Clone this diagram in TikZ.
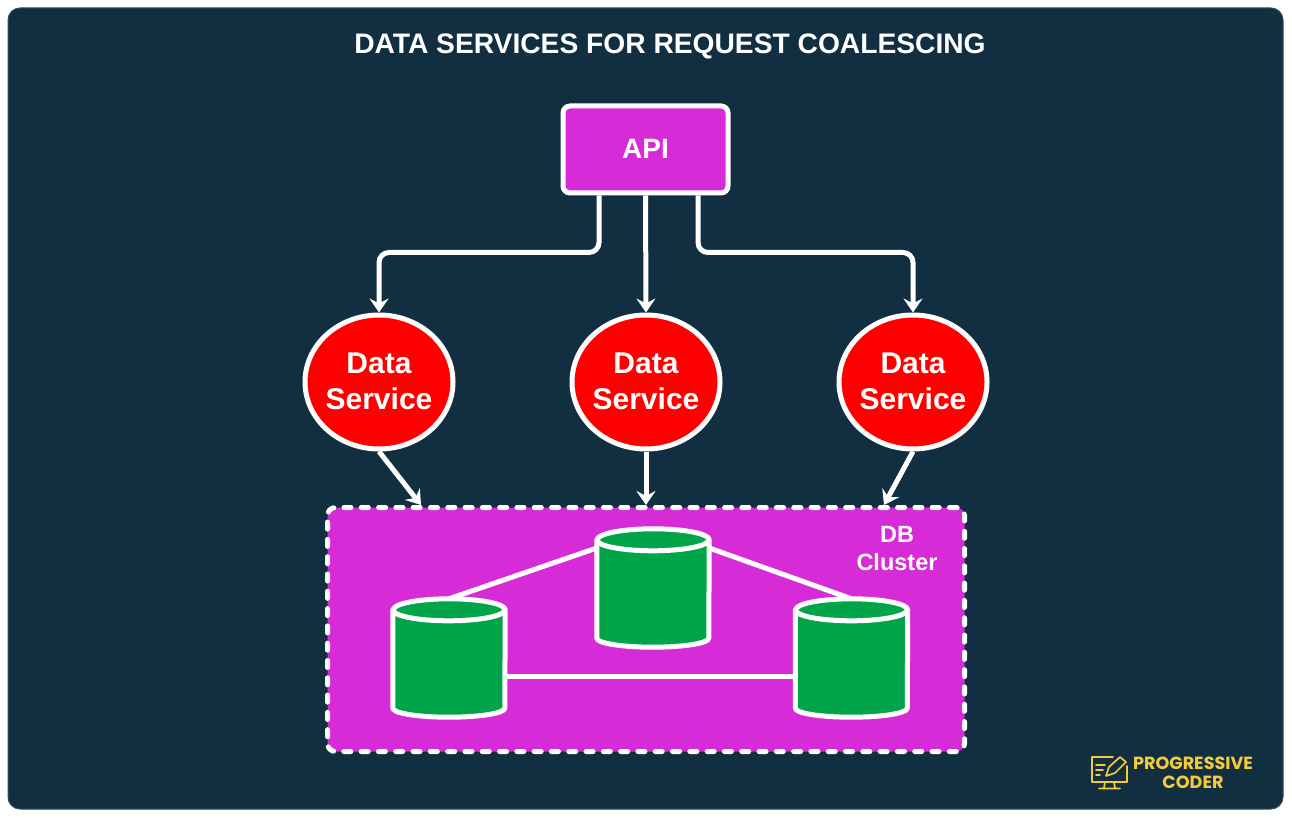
\documentclass[tikz,border=0pt]{standalone}
\usepackage{fontspec}
\setmainfont{Liberation Sans}
\newfontfamily\logofont{Poppins}
\usetikzlibrary{shapes.geometric,arrows.meta,positioning,calc}
\definecolor{panelbg}{HTML}{122F41}
\definecolor{magentabox}{HTML}{D62BD6}
\definecolor{dbgreen}{HTML}{00A549}
\definecolor{logoyellow}{HTML}{F4CB3C}
\tikzset{
  x=1pt,y=-1pt,
  panel/.style={rectangle,draw=panelbg!85!white,line width=1pt,fill=panelbg,rounded corners=12pt,minimum width=1275pt,minimum height=801pt,inner sep=0pt},
  titletext/.style={text=white,font=\bfseries\fontsize{28.2}{33}\selectfont,inner sep=0pt},
  apibox/.style={rectangle,draw=white,line width=5pt,fill=magentabox,rounded corners=7pt,minimum width=165pt,minimum height=87pt,text=white,font=\bfseries\fontsize{28}{34}\selectfont,inner sep=0pt},
  service/.style={ellipse,draw=white,line width=5pt,fill=red,minimum width=148pt,minimum height=134pt,inner sep=-12pt,text=white,align=center,font=\bfseries\fontsize{30}{36}\selectfont},
  cluster/.style={rectangle,draw=white,line width=5pt,fill=magentabox,rounded corners=8pt,minimum width=637pt,minimum height=244pt,inner sep=0pt,dash pattern=on 7pt off 10.3pt,line cap=round},
  clusterlabel/.style={text=white,align=center,inner sep=0pt,font=\bfseries\fontsize{23.5}{28}\selectfont},
  dbframe/.style={rectangle,minimum width=112pt,minimum height=118pt,inner sep=0pt},
  dbskin/.style={draw=white,line width=5pt,fill=dbgreen,line join=round},
  link/.style={draw=white,line width=5pt},
  flow/.style={draw=white,line width=5pt,rounded corners=10pt,-{Stealth[length=14pt,width=19pt,inset=5pt]}},
  logoline/.style={draw=logoyellow,line width=1.7pt,line cap=round,line join=round},
  logotext/.style={text=logoyellow,align=center,inner sep=0pt,font=\logofont\bfseries\fontsize{17.6}{19}\selectfont}
}
\newcommand{\dbdrum}[1]{%
  \path[dbskin] ([yshift=-11pt]#1.north west) -- ([yshift=9pt]#1.south west)
    arc[start angle=180,end angle=360,x radius=56pt,y radius=9pt]
    -- ([yshift=-11pt]#1.north east)
    arc[start angle=0,end angle=180,x radius=56pt,y radius=11pt] -- cycle;
  \path[dbskin,fill=none] ([yshift=-11pt]#1.north west)
    arc[start angle=180,end angle=360,x radius=56pt,y radius=11pt];}
\begin{document}
\begin{tikzpicture}
\useasboundingbox (0,0) rectangle (1292,818);
\fill[white] (0,0) rectangle (1292,818);
\node[panel] (bg) at (645.5,408.5) {};
\node[titletext] (title) at (670,46) {DATA SERVICES FOR REQUEST COALESCING};
\node[apibox] (api) at (645.5,149.5) {\raisebox{2pt}{API}};
\node[service] (ds1) at (379,382) {\raisebox{2pt}{Data}\\\raisebox{2pt}{Service}};
\node[service] (ds2) at (646,382) {\raisebox{2pt}{Data}\\\raisebox{2pt}{Service}};
\node[service] (ds3) at (913,382) {\raisebox{2pt}{Data}\\\raisebox{2pt}{Service}};
\node[cluster] (db) at (646,629.5) {};
\node[clusterlabel] (dblabel) at (897,549) {DB\\Cluster};
\node[dbframe] (c2) at (653,588) {};
\node[dbframe] (c1) at (449,658) {};
\node[dbframe] (c3) at (851.5,658) {};
% connectors
\draw[flow] ([xshift=-46.5pt]api.south) |- ([yshift=60pt]ds1.north) -- (ds1.north);
\draw[flow] (api.south) -- (ds2.north);
\draw[flow] ([xshift=52.5pt]api.south) |- ([yshift=60pt]ds3.north) -- (ds3.north);
\coordinate (in1) at ([xshift=-225pt]db.north);
\coordinate (in3) at ([xshift=238pt]db.north);
\draw[flow] (ds1.south) -- (in1);
\draw[flow] (ds2.south) -- (db.north);
\draw[flow] (ds3.south) -- (in3);
\draw[link] ([yshift=40pt]c2.west) -- (c1.north);
\draw[link] ([yshift=40pt]c2.east) -- (c3.north);
\draw[link] ([yshift=-18pt]c1.east) -- ([yshift=-18pt]c3.west);
\dbdrum{c2}
\dbdrum{c1}
\dbdrum{c3}
% logo
\draw[logoline] (1113,757) -- (1092,757) -- (1092,782) -- (1127,782) -- (1127,766);
\draw[logoline] (1105,782) -- (1104,788) (1114,782) -- (1115,788) (1099,788.5) -- (1120,788.5);
\draw[logoline] (1096,765) -- (1105,765) (1096,770) -- (1103,770) (1096,775) -- (1100,775);
\draw[logoline] (1106,776) -- (1109,767) -- (1120,757) -- (1126,762) -- (1115,773) -- cycle;
\node[logotext] (logo) at (1193,772.5) {PROGRESSIVE\\CODER};
\end{tikzpicture}
\end{document}
